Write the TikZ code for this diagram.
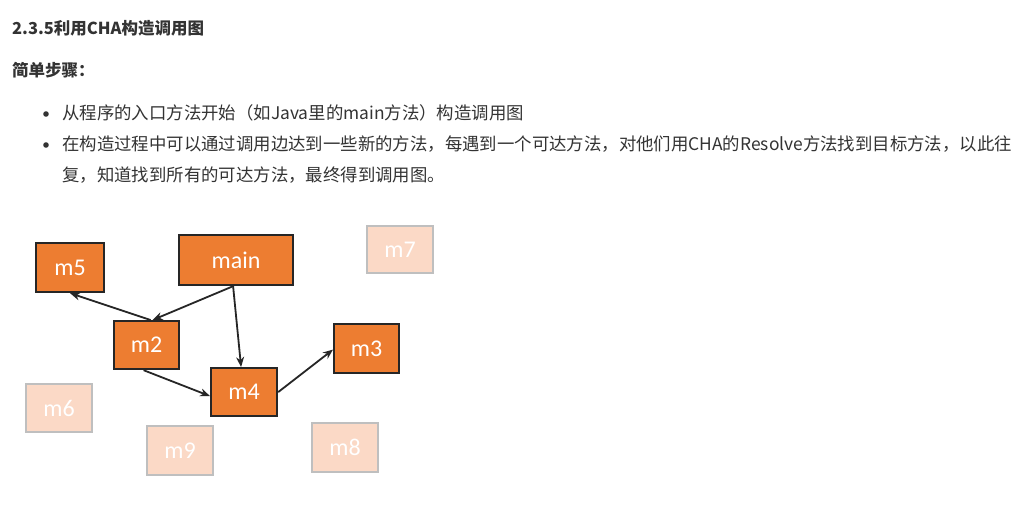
\documentclass[tikz,border=0pt]{standalone}
\usepackage{fontspec}
\setmainfont{Noto Sans CJK SC}
\newfontfamily\boxfont{Carlito}
\usetikzlibrary{arrows.meta}
\definecolor{org}{HTML}{ED7D31}
\definecolor{pale}{HTML}{FBD9C6}
\definecolor{txt}{HTML}{333333}
\tikzset{
  x=1pt,y=-1pt,
  mbox/.style={draw=black!85,line width=2.2pt,fill=org,text=white,font=\boxfont\fontsize{24}{24}\selectfont,anchor=north west,inner sep=0pt},
  fbox/.style={draw=black!25,line width=2.2pt,fill=pale,text=white,font=\boxfont\fontsize{24}{24}\selectfont,anchor=north west,inner sep=0pt},
  arr/.style={-{Stealth[length=10pt,width=8pt]},line width=1.8pt,draw=black!85},
  body/.style={anchor=west,text=txt,font=\fontsize{17.4}{20}\selectfont,inner sep=0pt}
}
\begin{document}
\begin{tikzpicture}
\useasboundingbox[fill=white] (0,0) rectangle (1032,510);
\node[body,font=\bfseries\fontsize{16.5}{20}\selectfont] (h) at (12,28) {2.3.5利用CHA构造调用图};
\node[body,font=\bfseries\fontsize{16.5}{20}\selectfont] (s) at (12,70) {简单步骤：};
\fill[txt] (46,114) circle (2.8);
\fill[txt] (46,145) circle (2.8);
\node[body] (b1) at (62,113) {从程序的入口方法开始（如Java里的main方法）构造调用图};
\node[body] (b2) at (62,144) {在构造过程中可以通过调用边达到一些新的方法，每遇到一个可达方法，对他们用CHA的Resolve方法找到目标方法，以此往};
\node[body] (b3) at (62,175) {复，知道找到所有的可达方法，最终得到调用图。};
\node[mbox,minimum width=68,minimum height=49] (m5) at (35,242) {m5};
\node[mbox,minimum width=114,minimum height=50] (main) at (178,234) {main};
\node[fbox,minimum width=66,minimum height=47] (m7) at (366,225) {m7};
\node[mbox,minimum width=65,minimum height=48] (m2) at (113,320) {m2};
\node[mbox,minimum width=65,minimum height=49] (m3) at (333,323) {m3};
\node[mbox,minimum width=66,minimum height=48] (m4) at (210,367) {m4};
\node[fbox,minimum width=66,minimum height=48] (m6) at (25,383) {m6};
\node[fbox,minimum width=66,minimum height=49] (m9) at (146,425) {m9};
\node[fbox,minimum width=66,minimum height=49] (m8) at (311,422) {m8};
\coordinate (mb) at ([xshift=-3pt]main.south);
\draw[arr] (mb) -- ([xshift=6pt]m2.north);
\draw[arr] ([xshift=4pt]m2.north) -- (m5.south);
\draw[arr] (mb) -- ([xshift=-3pt]m4.north);
\draw[arr] ([xshift=-3pt]m2.south) -- ([yshift=-4pt]m4.west);
\draw[arr] (m4.east) -- ([yshift=-1pt]m3.west);
\end{tikzpicture}
\end{document}
